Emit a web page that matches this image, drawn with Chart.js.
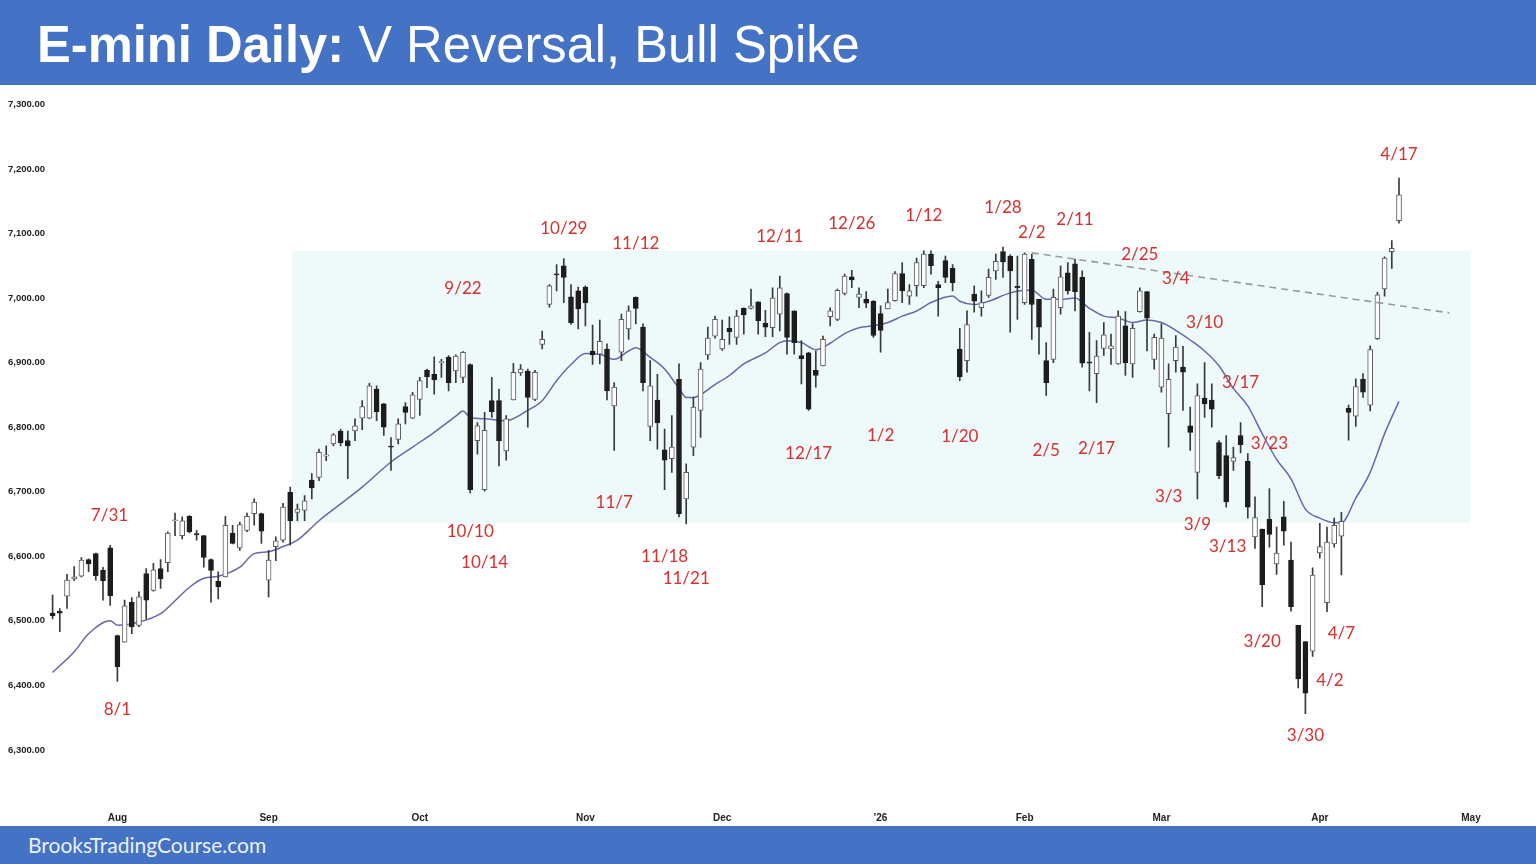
<!DOCTYPE html>
<html lang="en">
<head>
<meta charset="UTF-8">
<title>E-mini Daily: V Reversal, Bull Spike</title>
<script src="https://cdn.jsdelivr.net/npm/chart.js"></script>
<style>
    html, body {
        margin: 0;
        padding: 0;
        width: 1536px;
        height: 864px;
        overflow: hidden;
        background: #ffffff;
    }
    .header {
        position: absolute;
        left: 0;
        top: 0;
        width: 1536px;
        height: 85px;
        background: #4472C4;
    }
    .header h1 {
        position: absolute;
        left: 37px;
        top: 14px;
        margin: 0;
        font-family: 'Liberation Sans', Arial, sans-serif;
        font-size: 52px;
        line-height: 60px;
        font-weight: normal;
        color: #ffffff;
        white-space: nowrap;
        transform: scaleX(0.975);
        transform-origin: left center;
    }
    .header b { font-weight: bold; }
    #chartBox {
        position: absolute;
        left: 0;
        top: 85px;
        width: 1536px;
        height: 741px;
    }
    .footer {
        position: absolute;
        left: 0;
        top: 826px;
        width: 1536px;
        height: 38px;
        background: #4472C4;
        color: #eaf1fb;
        font-family: Lato, 'Open Sans', sans-serif;
        font-size: 21px;
        line-height: 38px;
    }
    .footer span { position: absolute; left: 28px; }
</style>
</head>
<body>
<div class="header"><h1><b>E-mini Daily:</b> V Reversal, Bull Spike</h1></div>
<div id="chartBox"><canvas id="emini"></canvas></div>
<div class="footer"><span>BrooksTradingCourse.com</span></div>

<script>
// trading calendar (weekdays minus exchange holidays)
const firstDay = '2025-07-21';
const lastDay = '2026-05-05';
const holidays = ['2025-09-01', '2025-11-27', '2025-12-25', '2026-01-01', '2026-01-19', '2026-02-16', '2026-04-03'];

// daily OHLC, 7/21/2025 .. 4/17/2026
const opens = [
    6512, 6515, 6538, 6565, 6569, 6595, 6604, 6578, 6613, 6477, 6467, 6529, 6493, 6573, 6547, 6581, 6590, 6655, 6632, 6662,
    6635, 6632, 6595, 6561, 6568, 6636, 6613, 6640, 6666, 6666, 6563, 6615, 6625, 6699, 6668, 6671, 6718, 6722, 6755, 6774,
    6794, 6779, 6794, 6814, 6814, 6859, 6836, 6770, 6781, 6832, 6814, 6843, 6888, 6882, 6900, 6908, 6887, 6877, 6897, 6779,
    6703, 6841, 6841, 6763, 6842, 6884, 6887, 6843, 6928, 6990, 7037, 7050, 7002, 7011, 7017, 6918, 6913, 6921, 6833, 6916,
    6952, 7001, 6955, 6801, 6842, 6765, 6751, 6874, 6689, 6769, 6826, 6912, 6941, 6921, 6953, 6939, 6984, 6984, 6994, 6961,
    6954, 6975, 7007, 6980, 6911, 6915, 6888, 6895, 6971, 6967, 7007, 7033, 7001, 6998, 6995, 6976, 6983, 6996, 7038, 7003,
    7019, 7019, 7068, 7021, 7058, 7046, 6921, 6903, 7006, 6985, 7004, 7042, 7072, 7065, 7018, 6993, 7060, 6998, 6903, 6905,
    6985, 7039, 7053, 7032, 6901, 6883, 6922, 6921, 6898, 6957, 6898, 6979, 7010, 6905, 6862, 6821, 6903, 6893, 6802, 6730,
    6845, 6842, 6776, 6756, 6747, 6787, 6747, 6630, 6642, 6657, 6588, 6661, 6594, 6493, 6468, 6453, 6605, 6528, 6619, 6631,
    6829, 6817, 6874, 6834, 6937, 7014, 7072, 7120
];
const highs = [
    6540, 6519, 6572, 6584, 6598, 6596, 6605, 6583, 6617, 6478, 6532, 6536, 6545, 6581, 6589, 6595, 6638, 6667, 6661, 6663,
    6640, 6632, 6596, 6576, 6662, 6648, 6653, 6667, 6689, 6667, 6609, 6630, 6682, 6707, 6681, 6694, 6728, 6766, 6771, 6790,
    6797, 6794, 6813, 6841, 6868, 6864, 6837, 6784, 6813, 6838, 6854, 6877, 6890, 6909, 6905, 6911, 6912, 6917, 6898, 6807,
    6823, 6877, 6859, 6818, 6899, 6897, 6890, 6888, 6949, 7021, 7052, 7061, 7021, 7017, 7019, 6958, 6966, 6929, 6869, 6975,
    6988, 7002, 6960, 6903, 6882, 6797, 6818, 6898, 6743, 6846, 6900, 6955, 6972, 6966, 6971, 6981, 6985, 7014, 6994, 6981,
    7016, 7034, 7008, 6980, 6934, 6916, 6918, 6941, 6985, 7014, 7037, 7043, 7016, 7010, 6996, 6988, 7014, 7041, 7055, 7021,
    7062, 7073, 7073, 7026, 7065, 7052, 6953, 6980, 7019, 7011, 7045, 7068, 7079, 7067, 7065, 7070, 7068, 6998, 6931, 7014,
    7050, 7055, 7060, 7042, 6947, 6934, 6962, 6944, 6980, 6979, 6960, 7016, 7010, 6944, 6960, 6898, 6942, 6925, 6831, 6867,
    6900, 6867, 6779, 6787, 6769, 6807, 6759, 6692, 6642, 6705, 6645, 6685, 6622, 6493, 6468, 6582, 6651, 6645, 6659, 6668,
    6834, 6875, 6883, 6926, 7009, 7064, 7089, 7186
];
const lows = [
    6503, 6483, 6519, 6562, 6568, 6576, 6563, 6532, 6524, 6406, 6467, 6480, 6491, 6503, 6546, 6550, 6576, 6632, 6627, 6636,
    6625, 6583, 6529, 6534, 6568, 6619, 6609, 6638, 6648, 6620, 6537, 6593, 6622, 6617, 6655, 6655, 6689, 6717, 6748, 6771,
    6771, 6720, 6779, 6796, 6813, 6810, 6787, 6733, 6774, 6805, 6813, 6818, 6861, 6851, 6877, 6856, 6869, 6869, 6698, 6758,
    6701, 6815, 6740, 6749, 6842, 6880, 6800, 6841, 6921, 6986, 7011, 6993, 6959, 6952, 6957, 6897, 6898, 6842, 6764, 6903,
    6936, 6960, 6856, 6779, 6766, 6703, 6730, 6661, 6650, 6756, 6784, 6905, 6938, 6919, 6928, 6928, 6944, 6983, 6944, 6940,
    6940, 6949, 6913, 6913, 6867, 6826, 6862, 6895, 6957, 6965, 7005, 7016, 6985, 6985, 6939, 6916, 6983, 6995, 6993, 6990,
    7003, 7016, 7037, 6972, 7024, 7011, 6872, 6885, 6978, 6972, 7001, 7029, 7032, 6947, 6967, 6990, 6936, 6913, 6849, 6900,
    6975, 7006, 6980, 6893, 6856, 6838, 6911, 6897, 6897, 6880, 6877, 6978, 6918, 6890, 6854, 6769, 6885, 6826, 6764, 6689,
    6815, 6800, 6720, 6676, 6733, 6760, 6659, 6612, 6522, 6614, 6572, 6617, 6515, 6396, 6356, 6445, 6597, 6514, 6614, 6571,
    6780, 6801, 6846, 6825, 6936, 7003, 7046, 7116
];
const closes = [
    6508, 6512, 6563, 6568, 6594, 6588, 6570, 6562, 6539, 6429, 6523, 6491, 6537, 6532, 6579, 6565, 6636, 6656, 6655, 6638,
    6633, 6598, 6578, 6553, 6648, 6620, 6649, 6662, 6684, 6639, 6594, 6624, 6676, 6655, 6673, 6686, 6706, 6761, 6757, 6788,
    6776, 6771, 6802, 6832, 6864, 6824, 6800, 6769, 6805, 6823, 6850, 6872, 6878, 6873, 6901, 6869, 6910, 6916, 6703, 6802,
    6795, 6824, 6779, 6813, 6885, 6890, 6846, 6885, 6936, 7019, 7036, 7032, 6962, 6983, 6993, 6912, 6933, 6856, 6862, 6967,
    6980, 6984, 6869, 6864, 6807, 6749, 6769, 6666, 6730, 6831, 6890, 6938, 6967, 6936, 6948, 6972, 6974, 6988, 6965, 6955,
    7000, 7016, 6939, 6931, 6906, 6828, 6880, 6936, 6980, 7012, 7034, 7028, 7006, 6992, 6942, 6950, 6993, 7038, 7011, 7011,
    7055, 7068, 7050, 7016, 7032, 7024, 6878, 6959, 6995, 6993, 7032, 7057, 7056, 7042, 7016, 7068, 6990, 6955, 6869, 7001,
    7033, 7011, 7010, 6899, 6899, 6910, 6943, 6926, 6972, 6900, 6953, 7011, 6969, 6939, 6938, 6874, 6924, 6885, 6792, 6849,
    6836, 6828, 6725, 6684, 6753, 6773, 6676, 6660, 6556, 6634, 6605, 6639, 6522, 6410, 6388, 6571, 6615, 6622, 6648, 6654,
    6823, 6863, 6854, 6920, 7005, 7062, 7077, 7160
];

// 20-bar moving average, read at sample bars
const emaIdx = [0, 3, 5, 8, 9, 12, 15, 17, 19, 21, 23, 26, 28, 30, 32, 34, 37, 40, 43, 47, 50, 53, 56, 57, 58, 60, 63, 66, 68, 70,
    72, 74, 76, 78, 80, 81, 83, 85, 87, 88, 89, 92, 94, 96, 99, 101, 102, 104, 106, 108, 110, 112, 114, 116, 118, 120, 122, 125, 126, 128,
    130, 133, 135, 136, 138, 140, 142, 144, 146, 148, 150, 152, 154, 156, 158, 160, 162, 164, 166, 168, 170, 172, 174, 176, 178, 179, 181, 183, 185, 187];
const emaVal = [6420, 6452, 6480, 6500, 6493, 6498, 6511, 6531, 6552, 6566, 6569, 6583, 6604, 6607, 6615, 6625, 6655, 6681, 6707, 6746, 6769, 6792, 6817, 6825, 6815, 6813, 6810, 6826, 6841, 6872,
    6897, 6914, 6913, 6905, 6918, 6923, 6908, 6890, 6860, 6846, 6846, 6866, 6880, 6898, 6915, 6931, 6934, 6931, 6920, 6930, 6945, 6954, 6957, 6962, 6972, 6980, 6993, 7003, 6995, 6990,
    6995, 7008, 7012, 7012, 6998, 6998, 7000, 6984, 6972, 6969, 6962, 6966, 6962, 6950, 6935, 6918, 6895, 6860, 6833, 6790, 6750, 6720, 6673, 6659, 6652, 6652, 6690, 6730, 6790, 6840];

// bear trend line from the 2/2 high
const trendIdx = [136, 194];
const trendVal = [7070, 6977];

// trading range (bar index from/to, price low/high)
const rangeBars = [33.3, 196.9];
const rangePrices = [6652, 7073];

const yTicks = [6300, 6400, 6500, 6600, 6700, 6800, 6900, 7000, 7100, 7200, 7300];
const monthNames = ['Jan', 'Feb', 'Mar', 'Apr', 'May', 'Jun', 'Jul', 'Aug', 'Sep', 'Oct', 'Nov', 'Dec'];

// date labels in red
const noteText = ['7/31', '8/1', '9/22', '10/10', '10/14', '10/29', '11/7', '11/12', '11/18', '11/21', '12/11', '12/17', '12/26', '1/2', '1/12', '1/20', '1/28',
    '2/2', '2/5', '2/11', '2/17', '2/25', '3/3', '3/4', '3/9', '3/10', '3/13', '3/17', '3/20', '3/23', '3/30', '4/2', '4/7', '4/17'];
const noteIdx = [7.9, 9, 57, 58, 60, 71, 78, 81, 85, 88, 101, 105, 111, 115, 121, 126, 132,
    136, 138, 142, 145, 151, 155, 156, 159, 160, 163.2, 165, 168, 169, 174, 177.4, 179, 187];
const noteVal = [6663, 6362, 7014, 6638, 6591, 7108, 6683, 7084, 6600, 6566, 7096, 6759, 7116, 6787, 7128, 6785, 7141,
    7101, 6764, 7122, 6767, 7068, 6693, 7031, 6649, 6962, 6615, 6869, 6468, 6774, 6322, 6407, 6481, 7223];

function tradingDays(from, to, skip) {
    const out = [];
    const d = new Date(from + 'T00:00:00Z');
    const end = new Date(to + 'T00:00:00Z');
    while (d <= end) {
        const iso = d.toISOString().slice(0, 10);
        const wd = d.getUTCDay();
        if (wd !== 0 && wd !== 6 && !skip.includes(iso)) out.push(iso);
        d.setUTCDate(d.getUTCDate() + 1);
    }
    return out;
}

const labels = tradingDays(firstDay, lastDay, holidays);
const n = opens.length;

const bodyData = labels.map((d, i) => i < n ? [opens[i], closes[i]] : null);
const wickData = labels.map((d, i) => i < n ? [lows[i], highs[i]] : null);
const bodyFill = opens.map((o, i) => closes[i] >= o ? '#ffffff' : '#1d1d1d');
const bodyEdge = opens.map((o, i) => closes[i] >= o ? '#5c5c5c' : '#1d1d1d');

const emaData = labels.map(() => null);
emaIdx.forEach((k, j) => { emaData[k] = emaVal[j]; });
const trendData = labels.map(() => null);
trendIdx.forEach((k, j) => { trendData[k] = trendVal[j]; });

function monthLabel(i) {
    if (i === 0) return '';
    const cur = labels[i], prev = labels[i - 1];
    if (cur.slice(5, 7) === prev.slice(5, 7)) return '';
    const m = parseInt(cur.slice(5, 7), 10);
    return m === 1 ? "'" + cur.slice(2, 4) : monthNames[m - 1];
}

const rangeBoxPlugin = {
    id: 'rangeBox',
    beforeDatasetsDraw(chart) {
        const x = chart.scales.x, y = chart.scales.y, ctx = chart.ctx;
        const x1 = x.getPixelForValue(rangeBars[0]);
        const x2 = x.getPixelForValue(rangeBars[1]);
        const y1 = y.getPixelForValue(rangePrices[1]);
        const y2 = y.getPixelForValue(rangePrices[0]);
        ctx.save();
        ctx.fillStyle = '#eef9fa';
        ctx.fillRect(x1, y1, x2 - x1, y2 - y1);
        ctx.restore();
    }
};

const notesPlugin = {
    id: 'notes',
    afterDatasetsDraw(chart) {
        const x = chart.scales.x, y = chart.scales.y, ctx = chart.ctx;
        ctx.save();
        ctx.fillStyle = '#d92f2e';
        ctx.font = '17px Lato, "Open Sans", sans-serif';
        ctx.textAlign = 'center';
        ctx.textBaseline = 'middle';
        noteText.forEach((t, i) => {
            ctx.fillText(t, x.getPixelForValue(noteIdx[i]), y.getPixelForValue(noteVal[i]));
        });
        ctx.restore();
    }
};

const axisFont = { family: '"Liberation Sans", Arial, sans-serif', weight: 'bold' };

new Chart(document.getElementById('emini'), {
    data: {
        labels: labels,
        datasets: [
            {
                type: 'line',
                label: 'Trend line',
                data: trendData,
                spanGaps: true,
                borderColor: '#9a9a9a',
                borderWidth: 1.6,
                borderDash: [7, 5],
                pointRadius: 0,
                order: 0
            },
            {
                type: 'line',
                label: 'EMA',
                data: emaData,
                spanGaps: true,
                cubicInterpolationMode: 'monotone',
                borderColor: '#6767ad',
                borderWidth: 1.5,
                pointRadius: 0,
                order: 3
            },
            {
                type: 'bar',
                label: 'Body',
                data: bodyData,
                grouped: false,
                barThickness: 5,
                minBarLength: 1,
                backgroundColor: bodyFill,
                borderColor: bodyEdge,
                borderWidth: 1,
                borderSkipped: false,
                order: 1
            },
            {
                type: 'bar',
                label: 'Wick',
                data: wickData,
                grouped: false,
                barThickness: 1,
                backgroundColor: '#3a3a3a',
                order: 2
            }
        ]
    },
    options: {
        responsive: true,
        maintainAspectRatio: false,
        animation: false,
        layout: { padding: { top: 5, right: 47, left: 0, bottom: 0 } },
        plugins: {
            legend: { display: false },
            tooltip: { enabled: false }
        },
        scales: {
            x: {
                type: 'category',
                offset: true,
                grid: { display: false, drawTicks: false },
                border: { display: false },
                ticks: {
                    autoSkip: false,
                    maxRotation: 0,
                    padding: 4,
                    color: '#222',
                    font: { ...axisFont, size: 10 },
                    callback: (v, i) => monthLabel(i)
                },
                afterFit(s) { s.height = 18; }
            },
            y: {
                min: 6210,
                max: 7315,
                grid: { display: false, drawTicks: false },
                border: { display: false },
                afterBuildTicks(s) { s.ticks = yTicks.map(v => ({ value: v })); },
                ticks: {
                    padding: 4,
                    color: '#222',
                    font: { ...axisFont, size: 9.5 },
                    callback: v => v.toLocaleString('en-US', { minimumFractionDigits: 2, maximumFractionDigits: 2 })
                },
                afterFit(s) { s.width = 49; }
            }
        }
    },
    plugins: [rangeBoxPlugin, notesPlugin]
});
</script>
</body>
</html>
